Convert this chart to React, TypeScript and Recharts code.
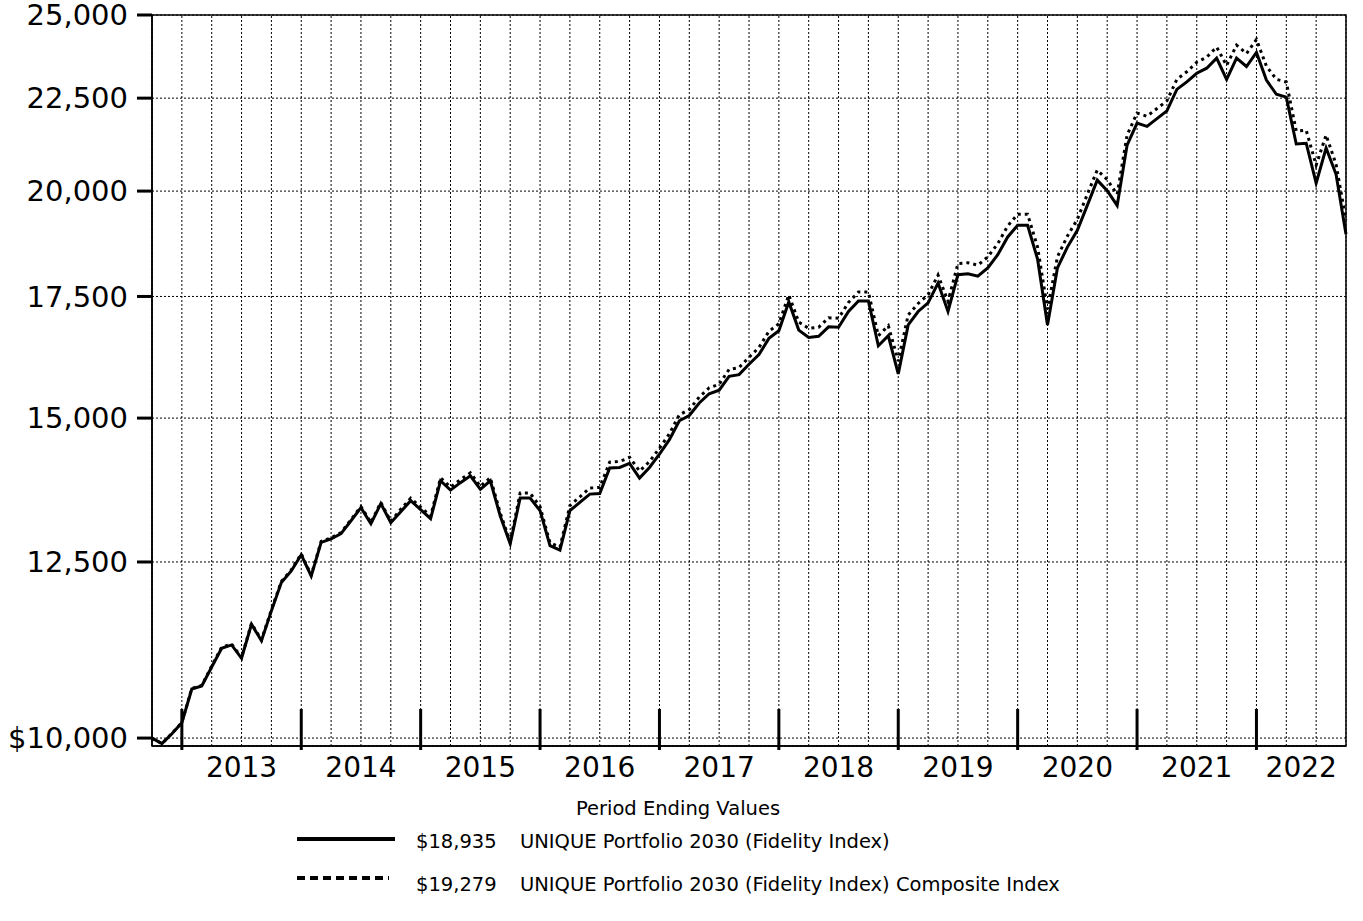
import { CartesianGrid, Line, LineChart, ReferenceArea, XAxis, YAxis } from "recharts";

// monthly, Sep 2012 .. Sep 2022
const PORTFOLIO = [
  10000, 9930, 10055, 10196, 10641, 10682, 10943, 11205, 11253, 11064, 11551, 11312,
  11749, 12180, 12360, 12614, 12280, 12814, 12870, 12958, 13170, 13390, 13121, 13460,
  13137, 13322, 13509, 13358, 13205, 13855, 13692, 13822, 13943, 13705, 13855, 13250,
  12792, 13555, 13555, 13340, 12760, 12690, 13340, 13480, 13623, 13634, 14080, 14090,
  14164, 13903, 14090, 14330, 14595, 14950, 15050, 15290, 15470, 15540, 15815, 15850,
  16060, 16260, 16595, 16755, 17380, 16770, 16615, 16640, 16840, 16830, 17170, 17400,
  17400, 16440, 16650, 15865, 16880, 17170, 17360, 17800, 17170, 17990, 18010, 17955,
  18145, 18450, 18870, 19150, 19150, 18350, 16880, 18145, 18630, 19030, 19640, 20280,
  20010, 19640, 21200, 21800, 21710, 21925, 22140, 22750, 22970, 23220, 23370, 23670,
  23040, 23670, 23420, 23840, 23020, 22610, 22530, 21230, 21250, 20200, 21120, 20430,
  18935,
];

const COMPOSITE = [
  10000, 9930, 10060, 10200, 10650, 10690, 10955, 11220, 11265, 11075, 11565, 11325,
  11765, 12195, 12375, 12630, 12295, 12830, 12890, 12975, 13190, 13410, 13140, 13480,
  13160, 13365, 13552, 13400, 13247, 13908, 13744, 13875, 13996, 13757, 13908, 13300,
  12824, 13642, 13642, 13408, 12808, 12738, 13425, 13575, 13727, 13738, 14187, 14197,
  14272, 14027, 14197, 14439, 14706, 15064, 15164, 15406, 15588, 15658, 15956, 15991,
  16203, 16405, 16743, 16904, 17535, 16941, 16806, 16831, 17034, 17024, 17367, 17600,
  17600, 16650, 16863, 16128, 17096, 17345, 17537, 17982, 17390, 18244, 18264, 18208,
  18401, 18710, 19136, 19420, 19420, 18633, 17226, 18401, 18893, 19298, 19917, 20540,
  20292, 19917, 21471, 22079, 21988, 22206, 22423, 23041, 23264, 23547, 23700, 24004,
  23452, 24063, 23809, 24236, 23432, 23044, 22963, 21582, 21603, 20667, 21471, 20691,
  19279,
];

const Y_TICKS = [10000, 12500, 15000, 17500, 20000, 22500, 25000];
const QUARTER_TICKS = [
  0, 3, 6, 9, 12, 15, 18, 21, 24, 27, 30, 33, 36, 39, 42, 45, 48, 51, 54, 57, 60,
  63, 66, 69, 72, 75, 78, 81, 84, 87, 90, 93, 96, 99, 102, 105, 108, 111, 114, 117, 120,
];
const YEAR_END_TICKS = [3, 15, 27, 39, 51, 63, 75, 87, 99, 111];
const YEAR_LABEL_TICKS = [9, 21, 33, 45, 57, 69, 81, 93, 105, 115.5];
const YEAR_LABELS = ["2013", "2014", "2015", "2016", "2017", "2018", "2019", "2020", "2021", "2022"];

const LEGEND_TITLE = "Period Ending Values";
const SERIES = [
  { key: "portfolio", value: "$18,935", name: "UNIQUE Portfolio 2030 (Fidelity Index)", dash: undefined },
  { key: "composite", value: "$19,279", name: "UNIQUE Portfolio 2030 (Fidelity Index) Composite Index", dash: "8 5" },
];

const MON = ["Jan", "Feb", "Mar", "Apr", "May", "Jun", "Jul", "Aug", "Sep", "Oct", "Nov", "Dec"];

const data = PORTFOLIO.map((v, i) => ({
  i,
  month: `${MON[(8 + i) % 12]} ${2012 + Math.floor((8 + i) / 12)}`,
  portfolio: v,
  composite: COMPOSITE[i],
}));

const FONT = "'DejaVu Sans', Verdana, sans-serif";
const PLOT_H = 730;

// quarter tick: dotted grid line up the plot, plus a heavy mark at each year end
function QuarterTick(props: any) {
  const { x, y, payload } = props;
  const major = YEAR_END_TICKS.includes(payload?.value);
  return (
    <g>
      <line x1={x} x2={x} y1={y} y2={y - PLOT_H} stroke="#000" strokeWidth={1} strokeDasharray="2 2" />
      {major && <line x1={x} x2={x} y1={y - 37} y2={y + 4} stroke="#000" strokeWidth={3} />}
    </g>
  );
}

function fmtY(v: number) {
  const s = v.toLocaleString("en-US");
  return v === 10000 ? `$${s}` : s;
}

export default function App() {
  return (
    <div style={{ position: "relative", width: 1363, height: 905, background: "#fff", fontFamily: FONT }}>
      <style>{`body{margin:0}`}</style>
      <LineChart width={1363} height={800} data={data} margin={{ top: 15, right: 17, bottom: 10, left: 0 }}>
        <CartesianGrid xAxisId="a" vertical={false} stroke="#000" strokeDasharray="2 2" strokeWidth={1} />
        <XAxis
          xAxisId="b"
          dataKey="i"
          type="number"
          domain={[0, 120]}
          ticks={YEAR_LABEL_TICKS}
          interval={0}
          tickFormatter={(v: number) => YEAR_LABELS[YEAR_LABEL_TICKS.indexOf(v)] ?? ""}
          tick={{ fill: "#000", fontSize: 28, fontFamily: FONT }}
          tickLine={false}
          tickSize={0}
          tickMargin={10}
          height={43}
          axisLine={false}
        />
        <XAxis
          xAxisId="a"
          dataKey="i"
          type="number"
          domain={[0, 120]}
          ticks={QUARTER_TICKS}
          interval={0}
          tick={QuarterTick}
          tickLine={false}
          tickSize={0}
          tickMargin={0}
          height={1}
          axisLine={{ stroke: "#000", strokeWidth: 1.5 }}
        />
        <YAxis
          scale="log"
          domain={[9900, 25000]}
          allowDataOverflow
          ticks={Y_TICKS}
          interval={0}
          width={152}
          tickFormatter={fmtY}
          tick={{ fill: "#000", fontSize: 29, fontFamily: FONT }}
          tickSize={15}
          tickMargin={9}
          tickLine={{ stroke: "#000", strokeWidth: 3 }}
          axisLine={{ stroke: "#000", strokeWidth: 1.5 }}
        />
        <ReferenceArea
          xAxisId="a"
          x1={0}
          x2={120}
          y1={9900}
          y2={25000}
          fill="none"
          stroke="#000"
          strokeWidth={1.5}
          ifOverflow="visible"
        />
        <Line
          xAxisId="a"
          type="linear"
          dataKey="composite"
          stroke="#000"
          strokeWidth={3}
          strokeDasharray="3 4"
          dot={false}
          isAnimationActive={false}
        />
        <Line
          xAxisId="a"
          type="linear"
          dataKey="portfolio"
          stroke="#000"
          strokeWidth={3}
          dot={false}
          isAnimationActive={false}
        />
      </LineChart>
      <svg width={1363} height={125} style={{ position: "absolute", left: 0, top: 780 }}>
        <g transform="translate(0,-780)" fontFamily={FONT} fill="#000">
          <text x={678} y={815} fontSize={19.5} textAnchor="middle">
            {LEGEND_TITLE}
          </text>
          {SERIES.map((s, k) => {
            const ly = k === 0 ? 839 : 878;
            const ty = k === 0 ? 848 : 891;
            return (
              <g key={s.key}>
                <line x1={297} x2={k === 0 ? 395 : 389} y1={ly} y2={ly} stroke="#000" strokeWidth={4} strokeDasharray={s.dash} />
                <text x={416} y={ty} fontSize={19.5}>
                  {s.value}
                </text>
                <text x={520} y={ty} fontSize={19.5}>
                  {s.name}
                </text>
              </g>
            );
          })}
        </g>
      </svg>
    </div>
  );
}
